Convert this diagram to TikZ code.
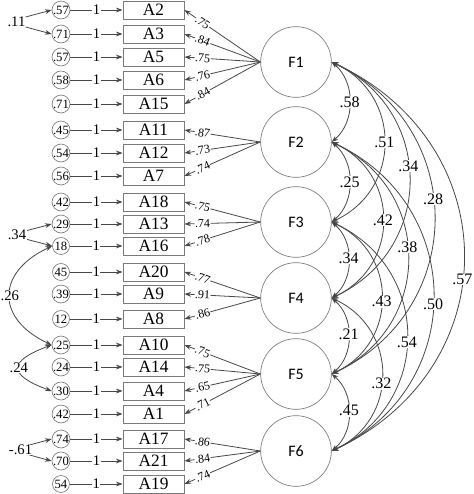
\documentclass[tikz,border=0pt]{standalone}
\usepackage{fontspec}
\setmainfont{Liberation Serif}
\newfontfamily\facfont{Carlito}
\usetikzlibrary{arrows.meta}

\definecolor{linegray}{gray}{0.28}
\definecolor{boxgray}{gray}{0.48}

\tikzset{
  con/.style={draw=linegray,line width=0.6pt},
  item/.style={draw=boxgray,line width=0.6pt,minimum width=45.75pt,minimum height=13.5pt,inner sep=0pt,font=\fontsize{13}{13}\selectfont},
  err/.style={circle,draw=boxgray,line width=0.5pt,minimum size=12.75pt,inner sep=0pt,font=\fontsize{9.5}{9.5}\selectfont},
  fac/.style={circle,draw=boxgray,line width=0.5pt,minimum size=53pt,inner sep=0pt,font=\fontsize{12}{12}\facfont},
  lab/.style={fill=white,inner sep=0.4pt},
}

\begin{document}
\begin{tikzpicture}[x=0.75pt,y=-0.75pt,>={Stealth[length=5pt,width=3.6pt]}]
\useasboundingbox (0,0) rectangle (474,494);
\def\xe{61}
\def\xa{153.5}
\def\xf{296}
% factors
\foreach \f/\y in {1/62,2/142,3/222,4/298,5/374,6/451}
  \node[fac] (F\f) at (\xf,\y) {F\f};
% items with their error terms
\foreach \n/\y/\e in {A2/10/.57,A3/34/.71,A5/57/.57,A6/80/.58,A15/104/.71,
    A11/130/.45,A12/153/.54,A7/176/.56,A18/202/.42,A13/224/.29,A16/246/18,
    A20/272/45,A9/294/.39,A8/319/12,A10/345/.25,A14/367/.24,A4/391/.30,A1/414/.42,
    A17/439/.74,A21/461/.70,A19/484/54}{
  \node[item] (\n) at (\xa,\y) {\n};
  \node[err] (e\n) at (\xe,\y) {\e};
  \draw[con,->] (e\n) -- node[lab,font=\fontsize{11}{11}\selectfont] {1} (\n);
}
% loadings
\foreach \f/\n/\v in {1/A2/.75,1/A3/.84,1/A5/.75,1/A6/.76,1/A15/.84,
    2/A11/.87,2/A12/.73,2/A7/.74,3/A18/.75,3/A13/.74,3/A16/.78,
    4/A20/.77,4/A9/.91,4/A8/.86,5/A10/.75,5/A14/.75,5/A4/.65,5/A1/.71,
    6/A17/.86,6/A21/.84,6/A19/.74}
  \draw[con,->] (F\f.west) -- node[lab,sloped,pos=0.76,font=\fontsize{9}{9}\selectfont] {\v} (\n.east);
% factor correlations
\foreach \a/\b/\v/\p in {1/2/.58/.5,1/3/.51/.5,1/4/.34/.45,1/5/.28/.45,1/6/.57/.55,
    2/3/.25/.5,2/4/.42/.5,2/5/.38/.46,2/6/.50/.52,3/4/.34/.48,3/5/.43/.52,
    3/6/.54/.52,4/5/.21/.48,4/6/.32/.55,5/6/.45/.48}{
  \pgfmathsetmacro\bd{\b-\a==1 ? 50 : 65}
  \pgfmathsetmacro\lo{\b-\a==1 ? 1.0 : (\b-\a==5 ? 1.28 : 1.24)}
  \draw[con,<->] (F\a.east) to[bend left=\bd,looseness=\lo]
    node[lab,pos=\p,font=\fontsize{12}{12}\selectfont] {\v} (F\b.east);
}
% error covariances
\draw[con,<->] (eA2.west) to[out=195,in=165,looseness=5.2]
  node[lab,font=\fontsize{11}{11}\selectfont] {.11} (eA3.west);
\draw[con,<->] (eA13.west) to[out=195,in=165,looseness=5.6]
  node[lab,font=\fontsize{11}{11}\selectfont] {.34} (eA16.west);
\draw[con,<->] (eA16.west) to[out=205,in=155,looseness=1.6]
  node[lab,font=\fontsize{11}{11}\selectfont] {.26} (eA10.west);
\draw[con,<->] (eA10.west) to[out=200,in=160,looseness=2.6]
  node[lab,font=\fontsize{11}{11}\selectfont] {.24} (eA4.west);
\draw[con,<->] (eA17.west) to[out=195,in=165,looseness=5.0]
  node[lab,font=\fontsize{11}{11}\selectfont] {-.61} (eA21.west);
\end{tikzpicture}
\end{document}
